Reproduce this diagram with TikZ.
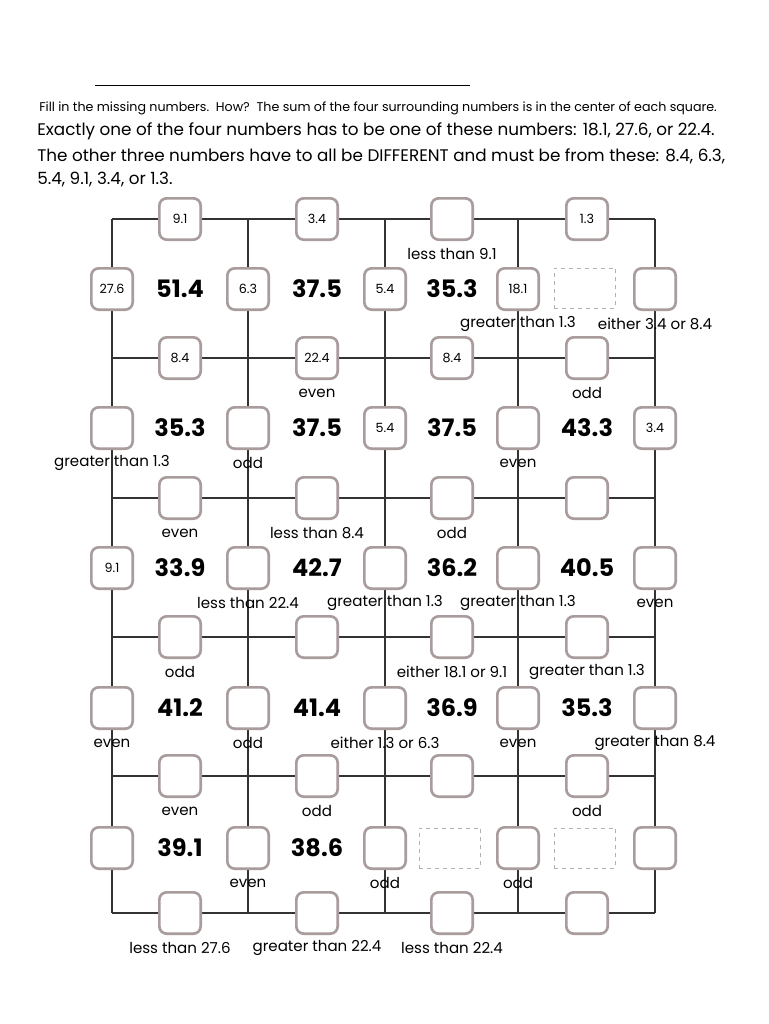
\documentclass[tikz,border=0pt]{standalone}
\usepackage{fontspec}
\setmainfont{Poppins}
\begin{document}
\begin{tikzpicture}[x=0.75pt,y=-0.75pt,
  gl/.style={draw=black!80,line width=0.9pt},
  bx/.style={draw=boxc,fill=white,line width=2pt,rounded corners=5.5pt,minimum size=31pt,inner sep=0pt,font=\fontsize{9.5}{10}\selectfont},
  dbx/.style={draw=black!30,dashed,line width=0.6pt,minimum width=46pt,minimum height=30pt},
  lbl/.style={font=\fontsize{11.3}{12}\selectfont,inner sep=0pt},
  num/.style={font=\fontsize{18}{19}\selectfont\bfseries,inner sep=0pt},
  hd/.style={anchor=west,inner sep=0pt}]
\definecolor{boxc}{HTML}{A89C9C}
\fill[white] (0,0) rectangle (768,1024);
\useasboundingbox (0,0) rectangle (768,1024);
\coordinate (ul1) at (95,85); \coordinate (ul2) at (470,85);
\draw[line width=0.7pt] (ul1) -- (ul2);
\node[hd,font=\fontsize{9.5}{10}\selectfont] (t1) at (39,108) {Fill in the missing numbers.\ \ How?\ \ The sum of the four surrounding numbers is in the center of each square.};
\node[hd,font=\fontsize{12.6}{14}\selectfont] (t2) at (37,131) {Exactly one of the four numbers has to be one of these numbers: 18.1, 27.6, or 22.4.};
\node[hd,font=\fontsize{12.6}{14}\selectfont] (t3) at (37,156) {The other three numbers have to all be DIFFERENT and must be from these: 8.4, 6.3,};
\node[hd,font=\fontsize{12.6}{14}\selectfont] (t4) at (37,180) {5.4, 9.1, 3.4, or 1.3.};
% grid
\foreach \x [count=\i] in {112,248,385,518,655} {
  \coordinate (vt\i) at (\x,219); \coordinate (vb\i) at (\x,913);
  \draw[gl] (vt\i) -- (vb\i);}
\foreach \y [count=\i] in {219,358,498,637,776,913} {
  \coordinate (hl\i) at (112,\y); \coordinate (hr\i) at (655,\y);
  \draw[gl] (hl\i) -- (hr\i);}
% horizontal edge boxes: row/col/text/label
\foreach \r/\c/\t/\l in {
 1/1/9.1/,1/2/3.4/,1/3//less than 9.1,1/4/1.3/,
 2/1/8.4/,2/2/22.4/even,2/3/8.4/,2/4//odd,
 3/1//even,3/2//less than 8.4,3/3//odd,3/4//,
 4/1//odd,4/2//,4/3//either 18.1 or 9.1,4/4//greater than 1.3,
 5/1//even,5/2//odd,5/3//,5/4//odd,
 6/1//less than 27.6,6/2//greater than 22.4,6/3//less than 22.4,6/4//} {
  \pgfmathsetmacro\xx{{180,317,452,587}[\c-1]}
  \pgfmathsetmacro\yy{{219,358,498,637,776,913}[\r-1]}
  \node[bx] (h\r\c) at (\xx,\yy) {\t};
  \node[lbl] (hlab\r\c) at (\xx,\yy+35) {\l};
}
% vertical edge boxes
\foreach \r/\c/\t/\l in {
 1/1/27.6/,1/2/6.3/,1/3/5.4/,1/4/18.1/greater than 1.3,1/5//either 3.4 or 8.4,
 2/1//greater than 1.3,2/2//odd,2/3/5.4/,2/4//even,2/5/3.4/,
 3/1/9.1/,3/2//less than 22.4,3/3//greater than 1.3,3/4//greater than 1.3,3/5//even,
 4/1//even,4/2//odd,4/3//either 1.3 or 6.3,4/4//even,4/5//greater than 8.4,
 5/1//,5/2//even,5/3//odd,5/4//odd,5/5//} {
  \pgfmathsetmacro\xx{{112,248,385,518,655}[\c-1]}
  \pgfmathsetmacro\yy{{289,428,568,708,848}[\r-1]}
  \node[bx] (v\r\c) at (\xx,\yy) {\t};
  \node[lbl] (vlab\r\c) at (\xx,\yy+35) {\l};
}
% cell numbers
\foreach \r/\c/\t in {1/1/51.4,1/2/37.5,1/3/35.3,
 2/1/35.3,2/2/37.5,2/3/37.5,2/4/43.3,
 3/1/33.9,3/2/42.7,3/3/36.2,3/4/40.5,
 4/1/41.2,4/2/41.4,4/3/36.9,4/4/35.3,
 5/1/39.1,5/2/38.6} {
  \pgfmathsetmacro\xx{{180,317,452,587}[\c-1]}
  \pgfmathsetmacro\yy{{289,428,568,708,848}[\r-1]}
  \node[num] (n\r\c) at (\xx,\yy) {\t};
}
\node[dbx] (d14) at (585,288) {};
\node[dbx] (d53) at (450,848) {};
\node[dbx] (d54) at (585,848) {};
\end{tikzpicture}
\end{document}
